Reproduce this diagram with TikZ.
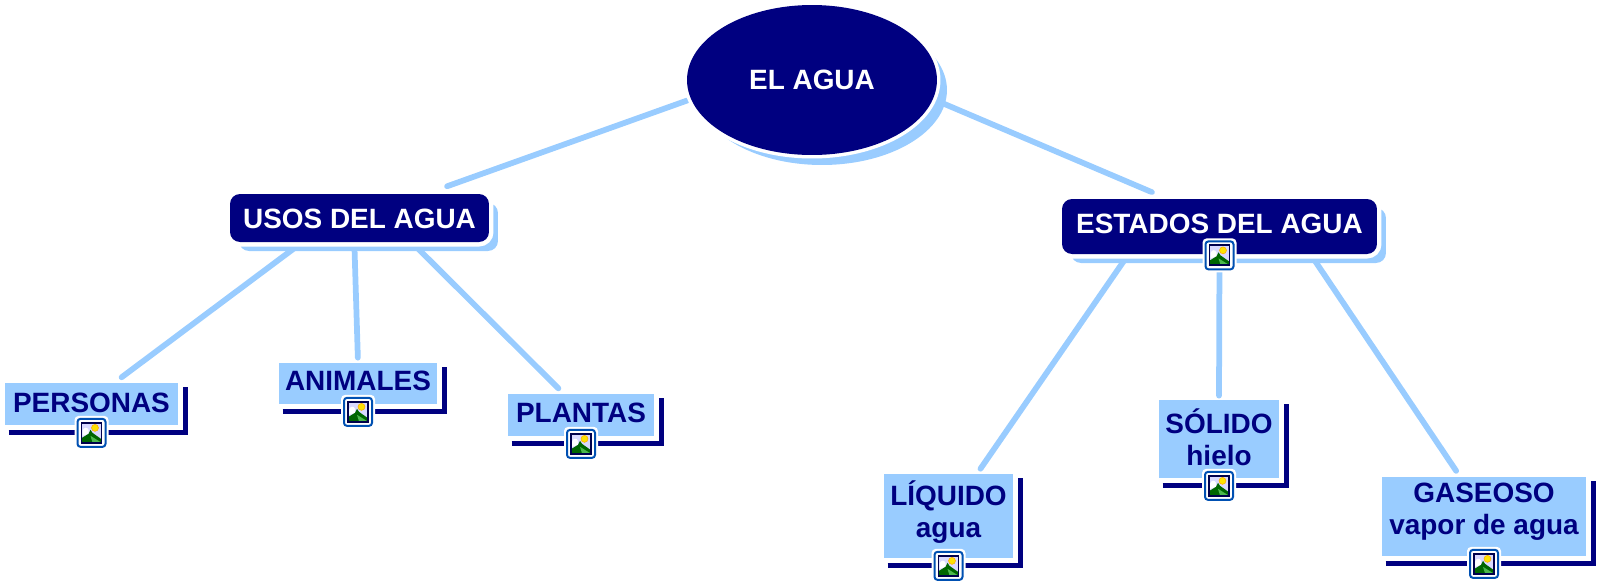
\documentclass[tikz,border=0pt]{standalone}
\usepackage{fontspec}
\setmainfont{Liberation Sans}
\usetikzlibrary{backgrounds,shadows,calc,shapes.geometric}
\definecolor{marino}{HTML}{000080}
\definecolor{celeste}{HTML}{99CCFF}
\tikzset{
  conector/.style={celeste,line width=.115cm,line cap=round},
  sombra/.style={marino,line width=.105cm},
  tema/.style={fill=marino,text=white,inner sep=0pt,
    preaction={draw=white,line width=#1},
    font=\fontsize{15.9}{18}\selectfont\bfseries},
  hoja/.style={fill=celeste,text=marino,inner sep=0pt,align=center,
    font=\fontsize{15.9}{18}\selectfont\bfseries},
  icono/.pic={
    \draw[white,line width=.06cm,fill=white,rounded corners=.06cm] (-15.5,-15.5) rectangle (15.5,15.5);
    \draw[draw=blue!55!cyan!70!black,line width=.04cm,fill=white,rounded corners=.06cm] (-14,-14) rectangle (14,14);
    \fill[blue!15] (-9.5,-9.5) rectangle (9.5,9.5);
    \fill[white] (-9,-2) .. controls (-8,-6) and (-4,-6) .. (-3,-3) -- (-3,1) -- (-9,3) -- cycle;
    \fill[yellow!85!orange,draw=orange!70!yellow,line width=.01cm] (3.5,-5) circle (3.5);
    \fill[green!40!black] (-9.5,9.5) -- (-9.5,5) -- (-3,1) -- (-1,-3) -- (1,0) -- (9.5,6) -- (9.5,9.5) -- cycle;
    \fill[green!60!black!70] (-1,3) -- (9.5,9.5) -- (1,9.5) -- cycle;
    \draw[blue!30!black,line width=.035cm] (-10,-10) rectangle (10,10);
  },
}
\begin{document}
\begin{tikzpicture}[x=.02cm,y=-.02cm]
  \useasboundingbox (0,0) rectangle (1600,586);
  % temas
  \node[drop shadow={shadow xshift=.2cm,shadow yshift=-.2cm,fill=celeste,opacity=1},
    tema=.14cm,ellipse,minimum width=5cm,minimum height=3cm] (agua) at (812,80) {EL AGUA};
  \node[drop shadow={shadow xshift=.18cm,shadow yshift=-.18cm,fill=celeste,opacity=1},
    tema=.18cm,rectangle,rounded corners=.2cm,minimum width=5.18cm,text height=.68cm,text depth=.28cm] (usos) at (359.5,218) {USOS DEL AGUA};
  \node[drop shadow={shadow xshift=.18cm,shadow yshift=-.18cm,fill=celeste,opacity=1},
    tema=.18cm,rectangle,rounded corners=.2cm,minimum width=6.3cm,text height=.68cm,text depth=.42cm] (estados) at (1219.5,226.5) {ESTADOS DEL AGUA};
  % hojas
  \node[hoja,minimum width=3.46cm,text height=.58cm,text depth=.26cm] (personas) at (91.5,404) {PERSONAS};
  \node[hoja,minimum width=3.16cm,text height=.54cm,text depth=.28cm] (animales) at (358,383.5) {ANIMALES};
  \node[hoja,minimum width=2.92cm,text height=.56cm,text depth=.28cm] (plantas) at (581,415) {PLANTAS};
  \node[hoja,minimum width=2.58cm,text height=1.26cm,text depth=.42cm] (liquido) at (948.5,516) {LÍQUIDO\\agua};
  \node[hoja,minimum width=2.4cm,text height=1.3cm,text depth=.26cm] (solido) at (1219,439) {SÓLIDO\\hielo};
  \node[hoja,minimum width=4.08cm,text height=1.14cm,text depth=.44cm] (gaseoso) at (1484,516.5) {GASEOSO\\vapor de agua};
  \begin{scope}[on background layer]
    \draw[conector,shorten <=.08cm,shorten >=.44cm] (agua.189) -- (usos.20.4);
    \draw[conector,shorten <=.2cm,shorten >=.33cm] (agua.351.7) -- (estados.152.4);
    \draw[conector,shorten >=.18cm] (usos.203.8) -- (personas.43);
    \draw[conector,shorten >=.1cm] (usos.258.7) -- (animales.north);
    \draw[conector,shorten >=.15cm] (usos.335.8) -- (plantas.129);
    \draw[conector,shorten >=.12cm] (estados.197.3) -- (liquido.56);
    \draw[conector,shorten >=.08cm] (estados.south) -- (solido.north);
    \draw[conector,shorten >=.14cm] (estados.343.4) -- (gaseoso.121.7);
    \foreach \n in {personas,animales,plantas,liquido,solido,gaseoso}
      \draw[sombra] ($(\n.south west)+(4,7)$) -| ($(\n.north east)+(7,4)$);
  \end{scope}
  \foreach \n in {personas,animales,plantas,liquido,solido,gaseoso}
    \pic at ([yshift=-.15cm]\n.south) {icono};
  \pic at ([yshift=-.02cm]estados.south) {icono};
\end{tikzpicture}
\end{document}
